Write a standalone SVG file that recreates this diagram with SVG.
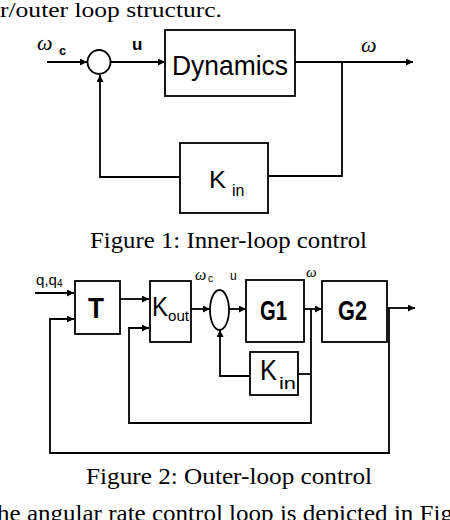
<svg xmlns="http://www.w3.org/2000/svg" width="450" height="520" viewBox="0 0 450 520">
<defs>
<marker id="ah" viewBox="0 0 10 10" refX="10" refY="5" markerWidth="7" markerHeight="7" markerUnits="userSpaceOnUse" orient="auto">
<path d="M0,0 L10,5 L0,10 z" fill="#000"/>
</marker>
<style>
.ln{fill:none;stroke:#000;stroke-width:1.8}
.bx{fill:#fff;stroke:#000;stroke-width:1.8}
.arr{marker-end:url(#ah)}
.sans{font-family:"Liberation Sans",Arial,sans-serif;fill:#000}
.serif{font-family:"Liberation Serif","Times New Roman",serif;fill:#000}
.om{font-family:"Liberation Serif","Times New Roman",serif;font-style:italic;fill:#000}
</style>
</defs>
<rect width="450" height="520" fill="#fff"/>

<text class="serif" x="0" y="17" font-size="22" textLength="222" lengthAdjust="spacingAndGlyphs">r/outer loop structurc.</text>

<!-- Figure 1 -->
<g id="connectors1">
<line class="ln arr" x1="47" y1="62" x2="87" y2="62"/>
<line class="ln arr" x1="111" y1="62" x2="165" y2="62"/>
<line class="ln arr" x1="295" y1="62" x2="413" y2="62"/>
<polyline class="ln" points="342,62 342,176 268,176"/>
<polyline class="ln arr" points="180,177 100,177 100,75"/>
</g>
<g id="sum1"><ellipse class="bx" cx="99" cy="62" rx="11.5" ry="12"/></g>
<g id="dynamics"><rect class="bx" x="165" y="30" width="130" height="66"/>
<text class="sans" x="172" y="75" font-size="28" textLength="116" lengthAdjust="spacingAndGlyphs">Dynamics</text></g>
<g id="kin1"><rect class="bx" x="180" y="143" width="88" height="70"/>
<text class="sans" x="209" y="188" font-size="24" textLength="17" lengthAdjust="spacingAndGlyphs">K</text>
<text class="sans" x="232" y="196" font-size="16">in</text></g>
<g id="labels1">
<text class="om" x="37" y="50" font-size="22">ω</text>
<text class="sans" x="59" y="55" font-size="13" font-weight="bold">c</text>
<text class="sans" x="132" y="50" font-size="17" font-weight="bold">u</text>
<text class="om" x="361" y="52" font-size="22">ω</text>
</g>
<text class="serif" x="90" y="248" font-size="23" textLength="277" lengthAdjust="spacingAndGlyphs">Figure 1: Inner-loop control</text>

<!-- Figure 2 -->
<g id="connectors2">
<line class="ln arr" x1="35" y1="293" x2="74" y2="293"/>
<polyline class="ln arr" points="389,308 389,453 50,453 50,319 74,319"/>
<line class="ln arr" x1="120" y1="299" x2="149" y2="299"/>
<polyline class="ln arr" points="311,309 311,423 129,423 129,328 149,328"/>
<line class="ln arr" x1="191" y1="309" x2="210" y2="309"/>
<line class="ln arr" x1="229" y1="309" x2="246" y2="309"/>
<line class="ln arr" x1="304" y1="309" x2="322" y2="309"/>
<line class="ln arr" x1="387" y1="308" x2="415" y2="308"/>
<line class="ln" x1="311" y1="374" x2="298" y2="374"/>
<polyline class="ln arr" points="250,376 220,376 220,330"/>
</g>
<g id="T"><rect class="bx" x="75" y="281" width="45" height="53"/>
<text class="sans" x="88" y="318" font-size="30" font-weight="bold" textLength="16" lengthAdjust="spacingAndGlyphs">T</text></g>
<g id="kout"><rect class="bx" x="150" y="281" width="41" height="61"/>
<text class="sans" x="152" y="316" font-size="27" textLength="16" lengthAdjust="spacingAndGlyphs">K</text>
<text class="sans" x="168" y="321" font-size="15" textLength="21" lengthAdjust="spacingAndGlyphs">out</text></g>
<g id="sum2"><ellipse class="bx" cx="219.5" cy="310" rx="9.5" ry="20"/></g>
<g id="G1"><rect class="bx" x="246" y="280" width="58" height="62"/>
<text class="sans" x="260" y="320" font-size="27" font-weight="bold" textLength="27" lengthAdjust="spacingAndGlyphs">G1</text></g>
<g id="G2"><rect class="bx" x="322" y="281" width="65" height="61"/>
<text class="sans" x="338" y="320" font-size="27" font-weight="bold" textLength="29" lengthAdjust="spacingAndGlyphs">G2</text></g>
<g id="kin2"><rect class="bx" x="250" y="352" width="48" height="43"/>
<text class="sans" x="260" y="380" font-size="29" textLength="17" lengthAdjust="spacingAndGlyphs">K</text>
<text class="sans" x="279" y="389" font-size="17" textLength="17" lengthAdjust="spacingAndGlyphs">in</text></g>
<g id="labels2">
<text class="sans" x="36" y="285" font-size="15" textLength="21" lengthAdjust="spacingAndGlyphs">q,q</text>
<text class="sans" x="57" y="287" font-size="10">4</text>
<text class="om" x="195" y="280" font-size="16">ω</text>
<text class="sans" x="208" y="282" font-size="10">c</text>
<text class="sans" x="230" y="280" font-size="12">u</text>
<text class="om" x="306" y="277" font-size="15">ω</text>
</g>
<text class="serif" x="86" y="484" font-size="23" textLength="286" lengthAdjust="spacingAndGlyphs">Figure 2: Outer-loop control</text>
<text class="serif" x="-3" y="521" font-size="23" textLength="456" lengthAdjust="spacingAndGlyphs">he angular rate control loop is depicted in Fig</text>
</svg>
